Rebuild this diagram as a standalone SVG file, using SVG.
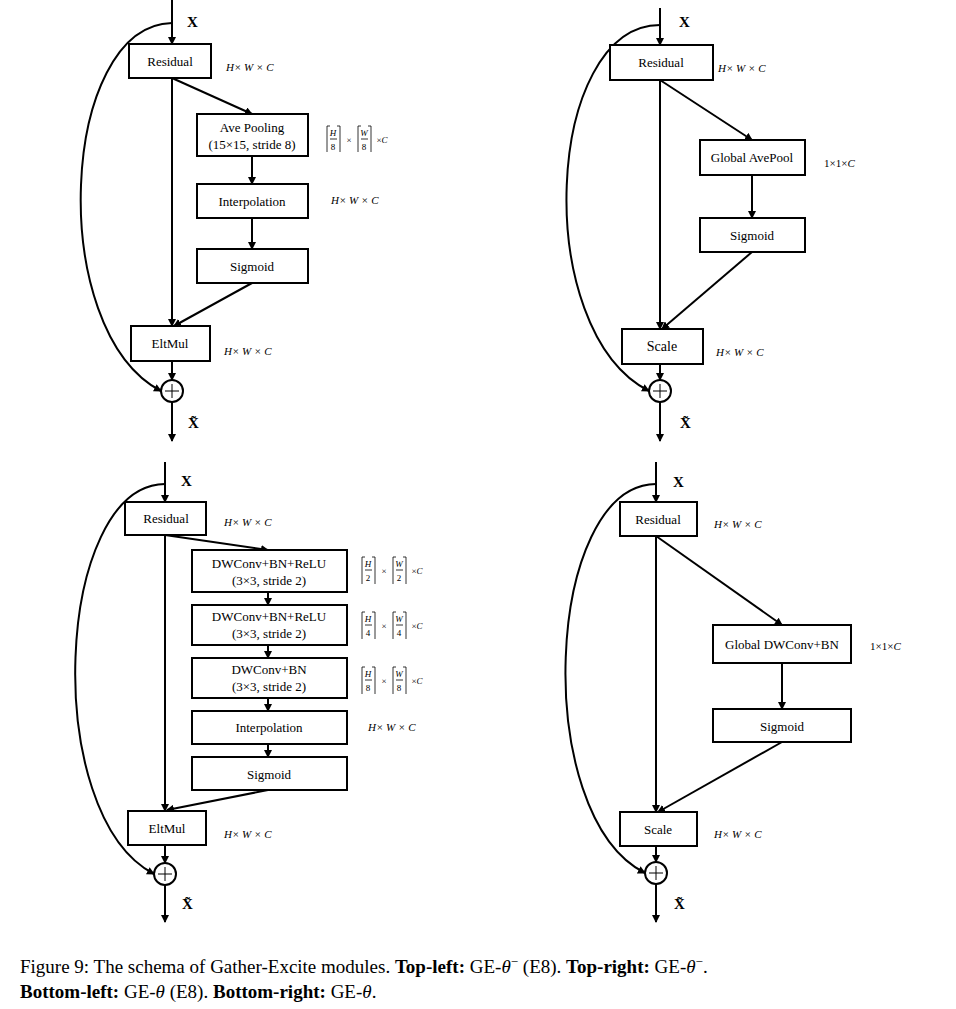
<svg xmlns="http://www.w3.org/2000/svg" width="956" height="1009" viewBox="0 0 956 1009">
<style>
.b{fill:#fff;stroke:#000;stroke-width:2}
.t{font-family:"Liberation Serif",serif;font-size:13px;text-anchor:middle}
.d{font-family:"Liberation Serif",serif;font-size:11px;font-style:italic}
.x{font-family:"Liberation Serif",serif;font-size:15px;font-weight:bold}
.c{fill:none;stroke:#000;stroke-width:2}
.k{fill:none;stroke:#000;stroke-width:1}
.cap{font-family:"Liberation Serif",serif;font-size:19px}
</style>
<defs>
<marker id="a" markerWidth="8" markerHeight="8" refX="7" refY="4" orient="auto" markerUnits="userSpaceOnUse"><path d="M0,0 L8,4 L0,8 z"/></marker>
<g id="pl"><circle r="11" class="b"/><path d="M-7,0H7M0,-7V7" class="k"/></g>
</defs>
<g id="connectors" class="c">
<!-- TL -->
<path d="M172,0V44" marker-end="url(#a)"/>
<path d="M172,23C60,25 45,330 161,391" marker-end="url(#a)"/>
<path d="M172,78V326" marker-end="url(#a)"/>
<path d="M172,78L252,114" marker-end="url(#a)"/>
<path d="M252,156V184" marker-end="url(#a)"/>
<path d="M252,218V249" marker-end="url(#a)"/>
<path d="M252,283L174,326" marker-end="url(#a)"/>
<path d="M172,361V380" marker-end="url(#a)"/>
<path d="M172,402V441" marker-end="url(#a)"/>
<!-- TR -->
<path d="M660,8V45" marker-end="url(#a)"/>
<path d="M660,25C545,25 530,330 649,391" marker-end="url(#a)"/>
<path d="M660,80V329" marker-end="url(#a)"/>
<path d="M660,80L752,140" marker-end="url(#a)"/>
<path d="M752,175V218" marker-end="url(#a)"/>
<path d="M752,252L662,329" marker-end="url(#a)"/>
<path d="M660,364V380" marker-end="url(#a)"/>
<path d="M660,402V441" marker-end="url(#a)"/>
<!-- BL -->
<path d="M165,462V502" marker-end="url(#a)"/>
<path d="M165,484C55,485 40,815 154,874" marker-end="url(#a)"/>
<path d="M165,535V811" marker-end="url(#a)"/>
<path d="M165,535L268,550" marker-end="url(#a)"/>
<path d="M268,592V605" marker-end="url(#a)"/>
<path d="M268,645V658" marker-end="url(#a)"/>
<path d="M268,698V711" marker-end="url(#a)"/>
<path d="M268,744V757" marker-end="url(#a)"/>
<path d="M268,790L167,810" marker-end="url(#a)"/>
<path d="M165,845V863" marker-end="url(#a)"/>
<path d="M165,885V922" marker-end="url(#a)"/>
<!-- BR -->
<path d="M656,462V502" marker-end="url(#a)"/>
<path d="M656,484C545,485 530,815 645,873" marker-end="url(#a)"/>
<path d="M656,536V812" marker-end="url(#a)"/>
<path d="M656,536L782,625" marker-end="url(#a)"/>
<path d="M782,663V709" marker-end="url(#a)"/>
<path d="M782,742L658,812" marker-end="url(#a)"/>
<path d="M656,846V862" marker-end="url(#a)"/>
<path d="M656,884V922" marker-end="url(#a)"/>
</g>
<!-- TL nodes -->
<g id="tl-res"><rect class="b" x="129" y="44" width="82" height="34"/><text class="t" x="170" y="66">Residual</text></g>
<g id="tl-pool"><rect class="b" x="197" y="114" width="111" height="42"/><text class="t" x="252" y="132">Ave Pooling</text><text class="t" x="252" y="149">(15×15, stride 8)</text></g>
<g id="tl-interp"><rect class="b" x="197" y="184" width="111" height="34"/><text class="t" x="252" y="206">Interpolation</text></g>
<g id="tl-sig"><rect class="b" x="197" y="249" width="111" height="34"/><text class="t" x="252" y="271">Sigmoid</text></g>
<g id="tl-mul"><rect class="b" x="131" y="326" width="79" height="35"/><text class="t" x="170" y="348">EltMul</text></g>
<use href="#pl" x="172" y="391"/>
<text class="x" x="187" y="27">X</text><text class="x" x="188" y="428">X̃</text>
<text class="d" x="226" y="71">H× W × C</text>
<text class="d" x="331" y="204">H× W × C</text>
<text class="d" x="224" y="355">H× W × C</text>
<!-- TR nodes -->
<g id="tr-res"><rect class="b" x="610" y="45" width="103" height="35"/><text class="t" x="661" y="67">Residual</text></g>
<g id="tr-gap"><rect class="b" x="700" y="140" width="105" height="35"/><text class="t" x="752" y="162">Global AvePool</text></g>
<g id="tr-sig"><rect class="b" x="700" y="218" width="105" height="34"/><text class="t" x="752" y="240">Sigmoid</text></g>
<g id="tr-scale"><rect class="b" x="622" y="329" width="81" height="35"/><text class="t" x="662" y="351" style="font-size:14px">Scale</text></g>
<use href="#pl" x="660" y="391"/>
<text class="x" x="679" y="27">X</text><text class="x" x="680" y="428">X̃</text>
<text class="d" x="718" y="72">H× W × C</text>
<text class="d" x="824" y="167" style="font-style:normal">1×1×<tspan font-style="italic">C</tspan></text>
<text class="d" x="716" y="356">H× W × C</text>
<!-- BL nodes -->
<g id="bl-res"><rect class="b" x="125" y="502" width="81" height="33"/><text class="t" x="166" y="523">Residual</text></g>
<g id="bl-dw1"><rect class="b" x="192" y="550" width="155" height="42"/><text class="t" x="269" y="568">DWConv+BN+ReLU</text><text class="t" x="269" y="585">(3×3, stride 2)</text></g>
<g id="bl-dw2"><rect class="b" x="192" y="605" width="155" height="40"/><text class="t" x="269" y="621">DWConv+BN+ReLU</text><text class="t" x="269" y="638">(3×3, stride 2)</text></g>
<g id="bl-dw3"><rect class="b" x="192" y="658" width="155" height="40"/><text class="t" x="269" y="674">DWConv+BN</text><text class="t" x="269" y="691">(3×3, stride 2)</text></g>
<g id="bl-interp"><rect class="b" x="192" y="711" width="155" height="33"/><text class="t" x="269" y="732">Interpolation</text></g>
<g id="bl-sig"><rect class="b" x="192" y="757" width="155" height="33"/><text class="t" x="269" y="779">Sigmoid</text></g>
<g id="bl-mul"><rect class="b" x="128" y="811" width="78" height="34"/><text class="t" x="167" y="833">EltMul</text></g>
<use href="#pl" x="165" y="874"/>
<text class="x" x="181" y="486">X</text><text class="x" x="182" y="909">X̃</text>
<text class="d" x="224" y="526">H× W × C</text>
<text class="d" x="368" y="731">H× W × C</text>
<text class="d" x="224" y="838">H× W × C</text>
<!-- BR nodes -->
<g id="br-res"><rect class="b" x="620" y="502" width="77" height="34"/><text class="t" x="658" y="524">Residual</text></g>
<g id="br-gdw"><rect class="b" x="713" y="625" width="138" height="38"/><text class="t" x="782" y="649">Global DWConv+BN</text></g>
<g id="br-sig"><rect class="b" x="713" y="709" width="138" height="33"/><text class="t" x="782" y="731">Sigmoid</text></g>
<g id="br-scale"><rect class="b" x="620" y="812" width="77" height="34"/><text class="t" x="658" y="834">Scale</text></g>
<use href="#pl" x="656" y="873"/>
<text class="x" x="673" y="487">X</text><text class="x" x="674" y="909">X̃</text>
<text class="d" x="714" y="528">H× W × C</text>
<text class="d" x="870" y="650" style="font-style:normal">1×1×<tspan font-style="italic">C</tspan></text>
<text class="d" x="714" y="838">H× W × C</text>
<!-- fractions -->
<g id="frac" class="k" style="stroke-width:0.8">
<path d="M327,126V152M327,126H330M340,126V152M340,126H337M330,139H337M358,126V152M358,126H361M371,126V152M371,126H368M361,139H368"/>
<path d="M362,557V584M362,557H365M375,557V584M375,557H372M365,570H372M393,557V584M393,557H396M406,557V584M406,557H403M396,570H403"/>
<path d="M362,612V639M362,612H365M375,612V639M375,612H372M365,625H372M393,612V639M393,612H396M406,612V639M406,612H403M396,625H403"/>
<path d="M362,667V694M362,667H365M375,667V694M375,667H372M365,680H372M393,667V694M393,667H396M406,667V694M406,667H403M396,680H403"/>
</g>
<g class="d" style="font-size:9px;text-anchor:middle">
<text x="333" y="136">H</text><text x="333" y="150" font-style="normal">8</text><text x="349" y="143" font-style="normal">×</text><text x="364" y="136">W</text><text x="364" y="150" font-style="normal">8</text><text x="382" y="143" font-style="normal">×<tspan font-style="italic">C</tspan></text>
<text x="368" y="567">H</text><text x="368" y="581" font-style="normal">2</text><text x="384" y="574" font-style="normal">×</text><text x="399" y="567">W</text><text x="399" y="581" font-style="normal">2</text><text x="417" y="574" font-style="normal">×<tspan font-style="italic">C</tspan></text>
<text x="368" y="622">H</text><text x="368" y="636" font-style="normal">4</text><text x="384" y="629" font-style="normal">×</text><text x="399" y="622">W</text><text x="399" y="636" font-style="normal">4</text><text x="417" y="629" font-style="normal">×<tspan font-style="italic">C</tspan></text>
<text x="368" y="677">H</text><text x="368" y="691" font-style="normal">8</text><text x="384" y="684" font-style="normal">×</text><text x="399" y="677">W</text><text x="399" y="691" font-style="normal">8</text><text x="417" y="684" font-style="normal">×<tspan font-style="italic">C</tspan></text>
</g>
<text class="cap" x="20" y="973">Figure 9: The schema of Gather-Excite modules. <tspan font-weight="bold">Top-left:</tspan> GE-<tspan font-style="italic">θ</tspan><tspan dy="-7" font-size="13">−</tspan><tspan dy="7"> (E8). </tspan><tspan font-weight="bold">Top-right:</tspan>  GE-<tspan font-style="italic">θ</tspan><tspan dy="-7" font-size="13">−</tspan><tspan dy="7">.</tspan></text>
<text class="cap" x="20" y="998"><tspan font-weight="bold">Bottom-left:</tspan> GE-<tspan font-style="italic">θ</tspan> (E8). <tspan font-weight="bold">Bottom-right:</tspan> GE-<tspan font-style="italic">θ</tspan>.</text>
</svg>
